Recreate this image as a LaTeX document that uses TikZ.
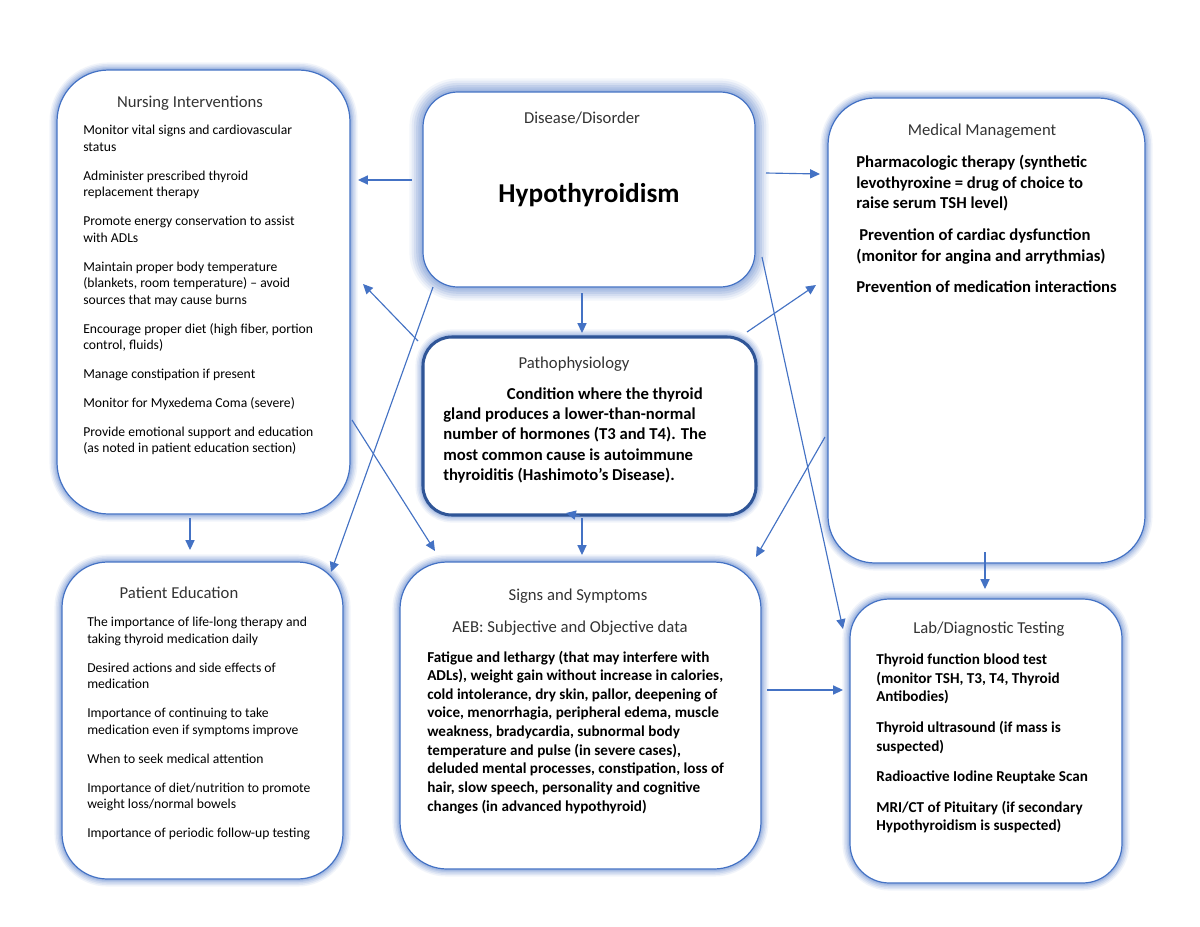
\documentclass[tikz,border=0pt]{standalone}
\usepackage{fontspec}
\setmainfont{Carlito}
\usetikzlibrary{arrows.meta,fit}
\definecolor{linec}{HTML}{4472C4}
\definecolor{darkc}{HTML}{2F5597}
\definecolor{glowc}{HTML}{8FAADC}
\begin{document}
\begin{tikzpicture}[x=0.66pt,y=-0.66pt,
  box/.style={draw=linec, line width=0.8pt, fill=white, rounded corners=#1, inner sep=0pt},
  glowS/.style={preaction={draw=glowc, line width=10pt, opacity=0.12},
                preaction={draw=glowc, line width=8pt, opacity=0.18},
                preaction={draw=glowc, line width=6pt, opacity=0.24},
                preaction={draw=glowc, line width=4pt, opacity=0.32},
                preaction={draw=glowc, line width=2.5pt, opacity=0.45}},
  glowL/.style={preaction={draw=glowc, line width=18pt, opacity=0.1},
                preaction={draw=glowc, line width=15pt, opacity=0.15},
                preaction={draw=glowc, line width=12pt, opacity=0.2},
                preaction={draw=glowc, line width=9pt, opacity=0.26},
                preaction={draw=glowc, line width=6pt, opacity=0.32},
                preaction={draw=glowc, line width=3pt, opacity=0.45}},
  hdr/.style={anchor=base, inner sep=0pt, text=black!80, font=\fontsize{11}{13}\selectfont},
  smallbody/.style={anchor=north west, align=left, inner sep=0pt, font=\fontsize{9}{10.9}\selectfont},
  bigbody/.style={anchor=north west, align=left, inner sep=0pt, font=\bfseries\fontsize{11}{13.5}\selectfont},
  midbody/.style={anchor=north west, align=left, inner sep=0pt, font=\bfseries\fontsize{10}{12.3}\selectfont},
  arr/.style={draw=linec, line width=0.75pt, -{Triangle[length=6.5pt,width=6pt]}}
]
\useasboundingbox[fill=white] (0,0) rectangle (1200,927);

% boxes
\node[box=34pt, glowS, fit={(57,70) (350,514)}] (nurse) {};
\node[box=23pt, glowL, fit={(423,92) (755,287)}] (dis) {};
\node[box=19pt, glowS, draw=darkc, line width=2pt, fit={(423,337) (756,515)}] (patho) {};
\node[box=31pt, glowS, fit={(828,98) (1145,563)}] (med) {};
\node[box=30pt, glowS, fit={(62,562) (343,879)}] (pated) {};
\node[box=31pt, glowS, fit={(400,562) (761,869)}] (signs) {};
\node[box=26pt, glowS, fit={(850,599) (1122,883)}] (lab) {};

% Nursing Interventions
\node[hdr] (nurseh) at (190,107) {Nursing Interventions};
\node[smallbody] (nurseb) at (83,125) {Monitor vital signs and cardiovascular\\status\\[8.2pt]
Administer prescribed thyroid\\replacement therapy\\[8.2pt]
Promote energy conservation to assist\\with ADLs\\[8.2pt]
Maintain proper body temperature\\(blankets, room temperature) – avoid\\sources that may cause burns\\[8.2pt]
Encourage proper diet (high fiber, portion\\control, fluids)\\[8.2pt]
Manage constipation if present\\[8.2pt]
Monitor for Myxedema Coma (severe)\\[8.2pt]
Provide emotional support and education\\(as noted in patient education section)};

% Disease/Disorder
\node[hdr] (dish) at (582,123) {Disease/Disorder};
\node[anchor=base, inner sep=0pt, font=\bfseries\fontsize{18}{22}\selectfont] (disb) at (589,202) {Hypothyroidism};

% Pathophysiology
\node[hdr] (pathoh) at (574,368) {Pathophysiology};
\node[bigbody] (pathob) at (443,387) {\hspace*{42pt}Condition where the thyroid\\gland produces a lower-than-normal\\number of hormones (T3 and T4). The\\most common cause is autoimmune\\thyroiditis (Hashimoto’s Disease).};

% Medical Management
\node[hdr] (medh) at (982,135) {Medical Management};
\node[bigbody] (medb) at (856,155) {Pharmacologic therapy (synthetic\\levothyroxine = drug of choice to\\raise serum TSH level)\\[7.6pt]
\hspace*{2pt}Prevention of cardiac dysfunction\\(monitor for angina and arrythmias)\\[7.6pt]
Prevention of medication interactions};

% Patient Education
\node[hdr] (patedh) at (179,598) {Patient Education};
\node[smallbody] (patedb) at (87,617) {The importance of life-long therapy and\\taking thyroid medication daily\\[8.2pt]
Desired actions and side effects of\\medication\\[8.2pt]
Importance of continuing to take\\medication even if symptoms improve\\[8.2pt]
When to seek medical attention\\[8.2pt]
Importance of diet/nutrition to promote\\weight loss/normal bowels\\[8.2pt]
Importance of periodic follow-up testing};

% Signs and Symptoms
\node[hdr] (signsh) at (578,600) {Signs and Symptoms};
\node[hdr] (signsa) at (570,632) {AEB: Subjective and Objective data};
\node[midbody] (signsb) at (427,650.5) {Fatigue and lethargy (that may interfere with\\ADLs), weight gain without increase in calories,\\cold intolerance, dry skin, pallor, deepening of\\voice, menorrhagia, peripheral edema, muscle\\weakness, bradycardia, subnormal body\\temperature and pulse (in severe cases),\\deluded mental processes, constipation, loss of\\hair, slow speech, personality and cognitive\\changes (in advanced hypothyroid)};

% Lab/Diagnostic Testing
\node[hdr] (labh) at (989,633) {Lab/Diagnostic Testing};
\node[midbody] (labb) at (876,653.5) {Thyroid function blood test\\(monitor TSH, T3, T4, Thyroid\\Antibodies)\\[8.2pt]
Thyroid ultrasound (if mass is\\suspected)\\[7.6pt]
Radioactive Iodine Reuptake Scan\\[8pt]
MRI/CT of Pituitary (if secondary\\Hypothyroidism is suspected)};

% connector end points
\coordinate (a1s) at (412,180); \coordinate (a1e) at (358,180);
\coordinate (a2s) at (418,341); \coordinate (a2e) at (363,284);
\coordinate (a3s) at (433,287); \coordinate (a3e) at (331,572);
\coordinate (a4s) at (352,420); \coordinate (a4e) at (435,551);
\coordinate (a5s) at (190,518); \coordinate (a5e) at (190,550);
\coordinate (a6s) at (582,293); \coordinate (a6e) at (582,333);
\coordinate (a7s) at (766,173); \coordinate (a7e) at (820,174);
\coordinate (a8s) at (747,332); \coordinate (a8e) at (816,285);
\coordinate (a9s) at (762,257); \coordinate (a9e) at (843,629);
\coordinate (a10s) at (825,437); \coordinate (a10e) at (756,557);
\coordinate (a11s) at (580,516); \coordinate (a11e) at (566,513);
\coordinate (a12s) at (582,518); \coordinate (a12e) at (582,555);
\coordinate (a13s) at (985,552); \coordinate (a13e) at (985,589);
\coordinate (a14s) at (767,690); \coordinate (a14e) at (843,690);

\foreach \i in {1,...,14} {\draw[arr] (a\i s) -- (a\i e);}
\end{tikzpicture}
\end{document}
